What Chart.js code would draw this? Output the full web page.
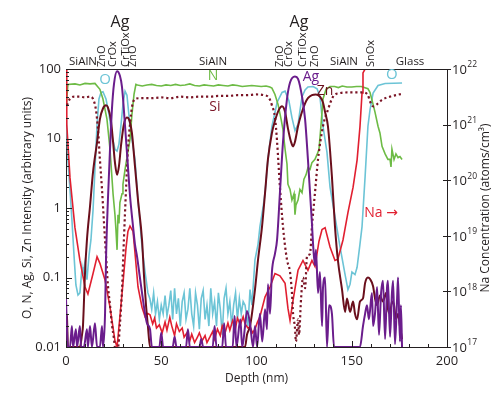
<!DOCTYPE html>
<html>
<head>
<meta charset="utf-8">
<script src="https://cdn.jsdelivr.net/npm/chart.js@4.4.1/dist/chart.umd.min.js"></script>
<style>
  html, body { margin: 0; padding: 0; background: #fff; }
</style>
</head>
<body>
<canvas id="sims" width="500" height="395"></canvas>
<script>
// SIMS depth profile: [depth (nm), value]
const oxygen = [
  [0, 25], [1, 5], [2.1, 1.8], [3.1, 0.68], [4.2, 0.21], [5.2, 0.078], [6.3, 0.056], [7.3, 0.06],
  [8.4, 0.14], [8.9, 0.11], [10, 0.17], [11, 0.093], [12.1, 0.21], [13.1, 0.35], [14.2, 0.94],
  [15.2, 3.6], [16.3, 16], [17.3, 37], [18.4, 46], [19.4, 47], [21, 37], [22.6, 22], [24.1, 11],
  [25.7, 7], [26.8, 6.6], [27.8, 8.3], [28.9, 16], [29.9, 31], [31, 48], [32, 42], [33.6, 15],
  [36.2, 5], [37.8, 1.3], [39.9, 0.28], [41.5, 0.12], [43, 0.06],
  [44, 0.05], [45, 0.035], [46, 0.06], [47, 0.03], [48, 0.045], [49, 0.025], [50, 0.04], [51, 0.03],
  [52, 0.055], [53, 0.028], [54, 0.04], [55, 0.065], [56, 0.025], [57, 0.07], [58, 0.03], [59, 0.05],
  [60, 0.02], [61, 0.045], [62, 0.06], [63, 0.025], [64, 0.035], [65, 0.07], [66, 0.03], [67, 0.02],
  [68, 0.06], [69, 0.04], [70, 0.018], [71, 0.05], [72, 0.065], [73, 0.025], [74, 0.04], [75, 0.02],
  [76, 0.07], [77, 0.03], [78, 0.045], [79, 0.02], [80, 0.06], [81, 0.035], [82, 0.015], [83, 0.05],
  [84, 0.07], [85, 0.03], [86, 0.045], [87, 0.02], [88, 0.04], [89, 0.06], [90, 0.025], [91, 0.05],
  [92, 0.03], [93, 0.045], [94, 0.04], [95.5, 0.02], [96.6, 0.067], [97.6, 0.04], [99.2, 0.18],
  [100.8, 0.3], [101.8, 0.54], [103.4, 1.0], [104.5, 1.66], [106, 5], [108.1, 15], [110.8, 33],
  [113.4, 46], [115, 48], [117, 35], [118.6, 20], [120.2, 13], [121.8, 16], [122.8, 25], [123.9, 40],
  [125.5, 50], [127, 55], [129.7, 56], [131.8, 52], [133.3, 40], [134.9, 15], [137, 6.3], [138.6, 2],
  [141.2, 0.75], [143.8, 0.28], [146.5, 0.11], [148, 0.067], [149.1, 0.08], [150.1, 0.12],
  [151.7, 0.11], [152.8, 0.14], [154.3, 0.3], [155.4, 0.54], [157, 2.8], [158.5, 15], [159.6, 26],
  [161.2, 45], [163.8, 58], [167.5, 62], [176.4, 63]
];

const nitrogen = [
  [0, 26], [1, 60], [4.7, 61], [7.3, 59], [10, 62], [12.6, 61], [15.2, 62], [17.8, 51], [19.4, 37],
  [21.5, 19], [23.1, 7], [24.7, 1.6], [25.7, 0.8], [26.2, 0.5], [26.8, 0.25], [27.3, 0.8], [27.8, 0.6],
  [28.3, 1.2], [29.4, 1.6], [29.9, 2.2], [31, 3.6], [32, 5.3], [33.6, 9.7], [34.6, 22], [35.7, 43],
  [36.7, 60], [37.5, 59], [40, 57], [42.5, 59], [45, 60], [47.5, 58], [50, 57], [52.5, 59], [55, 58],
  [57.5, 60], [60, 58], [62.5, 59], [65, 61], [67.5, 58], [70, 57], [72.5, 59], [75, 58], [77.5, 57],
  [80, 59], [82.5, 58], [85, 57], [87.5, 59], [90, 58], [92.5, 56], [95, 57], [97.5, 58], [100, 57],
  [102.5, 56], [105, 57], [107, 55], [108.1, 53], [109.7, 43], [111.3, 31], [112.9, 19], [113.9, 13.4],
  [115, 7], [116, 4.3], [116.5, 2.2], [117.6, 1.85], [118.6, 1.3], [119.7, 1.6], [120.2, 0.8],
  [120.7, 1.1], [121.8, 1.3], [122.8, 1.85], [123.9, 1.66], [124.9, 2.6], [126, 3.0], [127, 3.8],
  [128.1, 3.6], [129.1, 4.5], [130.7, 5], [131.8, 5.9], [132.8, 7], [133.9, 16], [134.9, 37],
  [136.5, 51], [138.6, 56], [141, 56], [143, 54], [145, 57], [147.5, 55], [150, 55], [152.5, 56],
  [155, 56], [158.5, 52], [159.6, 46], [161.2, 31], [162.2, 24], [163.8, 15], [164.8, 12],
  [165.9, 7.7], [167.5, 6], [169, 5], [170.1, 5], [170.6, 3.9], [171.1, 7], [172.2, 5], [173.2, 6],
  [174.3, 5.3], [175.3, 5.5], [176.4, 5]
];

const silver = [
  [0, 0.05], [0.5, 0.018], [1, 0.01], [2.1, 0.01], [3.1, 0.02], [3.7, 0.01], [5.2, 0.018], [5.8, 0.01],
  [7.3, 0.02], [7.9, 0.01], [9.4, 0.01], [11, 0.018], [11.5, 0.01], [12.6, 0.02], [13.6, 0.01],
  [15.2, 0.022], [16.3, 0.01], [17.8, 0.01], [18.9, 0.02], [19.4, 0.01], [20.5, 0.03], [21, 0.18],
  [22, 1.3], [23.1, 7], [24.1, 26], [25.2, 61], [26.8, 93], [28.3, 80], [29.4, 55], [31, 15],
  [32.5, 4], [33.6, 1.5], [35.2, 0.54], [36.2, 0.3], [37.3, 0.2], [38.8, 0.1], [40.4, 0.048],
  [41.5, 0.03], [42.5, 0.022], [44.1, 0.018], [45.1, 0.01], [49, 0.01], [50, 0.016], [51, 0.01],
  [56, 0.01], [57, 0.014], [58, 0.01], [63, 0.01], [64, 0.018], [65, 0.01], [70, 0.01], [71, 0.013],
  [72, 0.01], [77, 0.01], [78, 0.02], [79, 0.01], [82, 0.01], [83, 0.022], [84, 0.01], [87.5, 0.01],
  [88.5, 0.028], [89.5, 0.01], [91.5, 0.025], [92.5, 0.01], [94, 0.02], [95, 0.033], [96.6, 0.022],
  [98.2, 0.01], [99.2, 0.02], [100.3, 0.01], [101.8, 0.03], [103, 0.012], [104.5, 0.035],
  [105.5, 0.018], [106, 0.08], [107.1, 0.03], [108.1, 0.12], [109.7, 0.22], [110.8, 0.35],
  [112.3, 1.66], [113.9, 8.8], [116, 37], [117.6, 64], [120.2, 78], [121.8, 72], [123.9, 40],
  [125.5, 19], [127, 5], [128.1, 1.66], [129.1, 0.6], [129.7, 0.3], [130.7, 0.15], [131.2, 0.25],
  [132.3, 0.06], [133.3, 0.12], [134.4, 0.02], [134.9, 0.07], [136, 0.1], [137, 0.01], [138.1, 0.04],
  [139.6, 0.03], [140.7, 0.01], [154.3, 0.01], [155.9, 0.02], [157, 0.03], [158, 0.04], [159, 0.025],
  [160.6, 0.06], [161.2, 0.02], [162.2, 0.03], [163.3, 0.073], [164.3, 0.015], [165.4, 0.06],
  [166.4, 0.09], [167.5, 0.013], [168.5, 0.07], [169, 0.09], [170.1, 0.014], [171.1, 0.06],
  [171.7, 0.09], [172.7, 0.011], [173.8, 0.05], [174.3, 0.1], [175.3, 0.012], [175.8, 0.04], [176.4, 0.01]
];

const silicon = [
  [0.5, 30], [2, 37], [4.7, 40], [7.3, 40], [10, 39], [12.6, 40], [14.2, 37], [15.7, 26], [16.8, 13.4],
  [17.8, 5], [18.9, 1.85], [20, 0.58], [21, 0.21], [22, 0.078], [23.1, 0.04], [24.1, 0.021],
  [25.2, 0.013], [25.7, 0.01], [27.3, 0.01], [28.3, 0.021], [29.4, 0.067], [30.4, 0.35], [31.5, 1.85],
  [32.5, 7], [33.6, 16], [34.6, 28], [36.2, 37], [38.8, 38], [45, 38], [50, 39], [55, 38], [60, 40],
  [65, 39], [70, 40], [75, 40], [80, 41], [85, 41], [90, 42], [95, 42], [100, 43], [104, 42], [106, 40],
  [107.1, 36], [108.1, 30], [109.7, 20], [110.8, 9], [112.3, 2], [113.9, 0.54], [116, 0.18],
  [117.6, 0.12], [118.6, 0.06], [119.2, 0.03], [120.2, 0.019], [120.7, 0.012], [121.8, 0.025],
  [122.3, 0.015], [123.4, 0.05], [124.4, 0.1], [125.5, 0.07], [126.5, 0.2], [128.1, 0.22],
  [129.1, 0.54], [130.7, 1.66], [132.3, 5], [134.9, 15], [137.5, 26], [140.2, 40], [143.8, 45],
  [149.1, 46], [155.9, 46], [158.5, 42], [159.6, 34], [161.2, 29], [163.8, 32], [165.9, 36],
  [170.1, 40], [176.4, 44]
];

const zinc = [
  [0, 0.03], [0.5, 0.027], [1, 0.01], [7.3, 0.01], [8.4, 0.015], [8.9, 0.02], [10, 0.12], [11, 0.35],
  [12.6, 1.05], [14.2, 3.3], [16.3, 8.8], [17.8, 19], [19.4, 27], [21, 30], [22, 28], [23.6, 18],
  [24.7, 9], [25.7, 4.5], [26.8, 3.0], [27.8, 4], [28.9, 8], [30.4, 16], [32, 20], [33, 19], [34.6, 12],
  [36.2, 4], [37.8, 1.3], [39.9, 0.35], [41, 0.1], [42, 0.04], [43, 0.02], [44.1, 0.01], [94, 0.01],
  [95, 0.015], [96.6, 0.02], [99.2, 0.067], [100.8, 0.18], [102.9, 0.54], [104.5, 1.66], [106, 5],
  [108.1, 12], [109.7, 18], [111.8, 26], [113.4, 29], [115, 24], [116.5, 14], [118.1, 9], [119.2, 7.7],
  [120.2, 9], [121.8, 15], [123.4, 22], [125.5, 32], [127, 38], [129.1, 42], [131.2, 43], [133.3, 40],
  [134.9, 33], [136, 24], [137.5, 15], [139.6, 2.8], [141.2, 0.54], [142.7, 0.18], [144.9, 0.067],
  [146.5, 0.032], [147.5, 0.05], [149.1, 0.032], [150.7, 0.045], [151.7, 0.03], [152.8, 0.025],
  [154.3, 0.045], [155.9, 0.05], [157, 0.083], [158.5, 0.1], [159.6, 0.095], [161.2, 0.075],
  [162.2, 0.05], [163.3, 0.04], [164.8, 0.055], [166.4, 0.045], [168, 0.06], [169, 0.035],
  [170.1, 0.03], [171.1, 0.045], [172.2, 0.04], [173.2, 0.025], [174.3, 0.03], [175.3, 0.02],
  [176.4, 0.013]
];

// Na concentration (atoms/cm3), right axis
const sodium = [
  [0, 1e22], [0.4, 1e21], [2.1, 1.1e20], [4.7, 1.4e19], [7.3, 3.6e18], [10, 1.2e18], [11.5, 9e17],
  [14.2, 2.1e18], [16.3, 4.2e18], [17.8, 3.2e18], [20.5, 1.6e18], [23.1, 5.2e17], [25.7, 1.3e17],
  [26.8, 1e17], [28.3, 3.5e17], [29.9, 1.4e18], [31.5, 6e18], [32.5, 1.2e19], [33.6, 1.5e19],
  [35.2, 1.2e19], [36.2, 5e18], [37.8, 1.2e18], [39.9, 5.2e17], [41.5, 3.5e17], [43, 4e17],
  [44.1, 3.8e17], [45.5, 2.6e17], [46.5, 3.3e17], [47.5, 2.2e17], [49, 2.5e17], [50.5, 1.8e17],
  [52, 2.8e17], [53, 2e17], [54.5, 3.4e17], [55.5, 2.4e17], [57, 1.6e17], [58, 2.6e17], [59.5, 1.9e17],
  [61, 2.2e17], [62, 1.5e17], [63.5, 1.8e17], [65, 1.3e17], [66, 1.7e17], [67.5, 1.2e17], [69, 1.5e17],
  [70, 1.8e17], [71.5, 1.3e17], [73, 1.6e17], [74, 1.2e17], [75.5, 1.5e17], [77, 1.9e17], [78, 1.4e17],
  [79.5, 2.1e17], [81, 1.6e17], [82, 2.4e17], [83.5, 1.8e17], [85, 2.7e17], [86, 2e17], [87.5, 3e17],
  [89, 2.2e17], [90, 3.3e17], [91.5, 2.5e17], [93, 3.5e17], [94, 2.6e17], [95.5, 2.2e17],
  [96.6, 2.3e17], [98, 1.8e17], [99.2, 2.1e17], [100.5, 2.8e17], [101.8, 3.5e17], [104.5, 8e17],
  [107.1, 1.2e18], [109.7, 2.1e18], [112.3, 1.9e18], [115, 1.4e18], [116.5, 5e17], [117.6, 3e17],
  [119.2, 7e17], [121.8, 2.4e18], [124.4, 3.6e18], [127, 2.4e18], [129.1, 3.6e18], [130.7, 2.8e18],
  [132.8, 8e18], [134.4, 1.3e19], [136, 1.4e19], [138.6, 6.3e18], [141.2, 3.6e18], [142.7, 3.8e18],
  [145.4, 8.4e18], [148, 2.6e19], [150.7, 7.5e19], [152.8, 2.3e20], [154.3, 9e20], [155.4, 3.7e21],
  [155.9, 8.5e21], [157, 1e22], [176.4, 1e22]
];

// axis ticks
const depthLabels = [0, 50, 100, 150, 200];
const intensityDecades = [0.01, 0.1, 1, 10, 100];
const naExponents = [17, 18, 19, 20, 21, 22];

// layer names above the plot: [text, depth nm, rotated]
const layers = [
  ['SiAlN', 8.9, false], ['ZnO', 18.9, true], ['CrOx', 24.7, true], ['CrTiOx', 31.5, true],
  ['ZnO', 35.2, true], ['SiAlN', 77.2, false], ['ZnO', 112.3, true], ['CrOx', 117, true],
  ['CrTiOx', 124.4, true], ['ZnO', 130.7, true], ['SiAlN', 145.9, false], ['SnOx', 160.1, true],
  ['Glass', 180.6, false]
];
const silverLayers = [28.3, 122.3];

const FONT = '"Open Sans", "DejaVu Sans", sans-serif';
const INK = '#231f20';
const C_O = '#6cc4d6', C_N = '#6dbb45', C_AG = '#6b1d8c', C_SI = '#7b1526', C_ZN = '#6a0f1c', C_NA = '#e11f30';

function pts(arr) { return arr.map(([x, y]) => ({ x, y })); }
function isDecade(v) { const l = Math.log10(v); return Math.abs(l - Math.round(l)) < 1e-6; }

function series(label, arr, color, extra) {
  return Object.assign({
    label, data: pts(arr), borderColor: color, backgroundColor: color,
    borderWidth: 1.6, pointRadius: 0, fill: false, tension: 0, yAxisID: 'y'
  }, extra || {});
}

const annotate = {
  id: 'annotate',
  afterDraw(chart) {
    const { ctx, chartArea: a, scales } = chart;
    const x = scales.x, y = scales.y, y2 = scales.y2;
    ctx.save();

    // top frame + inner ticks
    ctx.strokeStyle = INK;
    ctx.lineWidth = 1;
    ctx.beginPath();
    ctx.moveTo(a.left, a.top + 0.5);
    ctx.lineTo(a.right, a.top + 0.5);
    for (let d = 0; d <= 200; d += 10) {
      const px = Math.round(x.getPixelForValue(d)) + 0.5;
      ctx.moveTo(px, a.bottom);
      ctx.lineTo(px, a.bottom - (d % 50 === 0 ? 6 : 3));
    }
    intensityDecades.forEach(dec => {
      for (let m = 1; m <= 9; m++) {
        const v = dec * m;
        if (v > 100) break;
        const py = Math.round(y.getPixelForValue(v)) + 0.5;
        ctx.moveTo(a.left, py);
        ctx.lineTo(a.left + (m === 1 ? 6 : 3), py);
      }
    });
    naExponents.forEach(e => {
      const py = Math.round(y2.getPixelForValue(Math.pow(10, e))) + 0.5;
      ctx.moveTo(a.right - 4, py);
      ctx.lineTo(a.right + 4, py);
    });
    ctx.stroke();

    // right axis labels 10^n
    ctx.fillStyle = INK;
    ctx.textBaseline = 'middle';
    ctx.textAlign = 'left';
    naExponents.forEach(e => {
      const py = y2.getPixelForValue(Math.pow(10, e));
      ctx.font = '13px ' + FONT;
      ctx.fillText('10', a.right + 5, py + 1);
      const w = ctx.measureText('10').width;
      ctx.font = '8.5px ' + FONT;
      ctx.fillText(String(e), a.right + 5 + w + 0.5, py - 4);
    });

    // right axis title, reading bottom to top
    ctx.save();
    ctx.translate(486, (a.top + a.bottom) / 2);
    ctx.rotate(-Math.PI / 2);
    ctx.textAlign = 'center';
    ctx.font = '12px ' + FONT;
    ctx.fillText('Na Concentration (atoms/cm³)', 0, 0);
    ctx.restore();

    // layer names
    ctx.fillStyle = INK;
    layers.forEach(([t, d, rot]) => {
      const px = x.getPixelForValue(d);
      if (rot) {
        ctx.font = '11px ' + FONT;
        ctx.save();
        ctx.translate(px, 67);
        ctx.rotate(-Math.PI / 2);
        ctx.textAlign = 'left';
        ctx.textBaseline = 'middle';
        ctx.fillText(t, 0, 0);
        ctx.restore();
      } else {
        ctx.font = '11.5px ' + FONT;
        ctx.textAlign = 'center';
        ctx.textBaseline = 'middle';
        ctx.fillText(t, px, 62);
      }
    });
    ctx.font = '16px ' + FONT;
    ctx.textAlign = 'center';
    ctx.textBaseline = 'middle';
    silverLayers.forEach(d => ctx.fillText('Ag', x.getPixelForValue(d), 22));

    // element labels inside the plot
    const tag = (t, d, v, color, size, scale) => {
      ctx.font = size + 'px ' + FONT;
      ctx.fillStyle = color;
      ctx.textAlign = 'center';
      ctx.textBaseline = 'middle';
      ctx.fillText(t, x.getPixelForValue(d), (scale || y).getPixelForValue(v));
    };
    tag('N', 77.2, 79, C_N, 14);
    tag('Si', 78.2, 28, C_SI, 14);
    tag('O', 20.5, 71, C_O, 15);
    tag('O', 171, 84, C_O, 15);
    tag('Ag', 128.6, 76, C_AG, 14);
    tag('Zn', 136, 48, C_ZN, 14);
    tag('Na →', 165.4, 2.6e19, C_NA, 14, y2);

    ctx.restore();
  }
};

new Chart(document.getElementById('sims').getContext('2d'), {
  type: 'line',
  data: {
    datasets: [
      series('Ag', silver, C_AG, { borderWidth: 2, cubicInterpolationMode: 'monotone' }),
      series('Zn', zinc, C_ZN, { borderWidth: 2, cubicInterpolationMode: 'monotone' }),
      series('Si', silicon, C_SI, { borderWidth: 2.2, borderDash: [2.2, 2.8], cubicInterpolationMode: 'monotone' }),
      series('Na', sodium, C_NA, { yAxisID: 'y2' }),
      series('N', nitrogen, C_N),
      series('O', oxygen, C_O)
    ]
  },
  options: {
    responsive: false,
    animation: false,
    layout: { padding: { top: 69, left: 0, right: 0, bottom: 0 } },
    plugins: { legend: { display: false }, tooltip: { enabled: false } },
    scales: {
      x: {
        type: 'linear', min: 0, max: 200,
        afterFit: s => { s.height = 48; },
        grid: { drawOnChartArea: false, drawTicks: false },
        border: { color: INK, width: 1 },
        ticks: {
          stepSize: 50, padding: 6, color: INK, font: { family: FONT, size: 13 },
          callback: v => depthLabels.includes(v) ? String(v) : ''
        },
        title: { display: true, text: 'Depth (nm)', color: INK, font: { family: FONT, size: 12 }, padding: { top: 0, bottom: 9 } }
      },
      y: {
        type: 'logarithmic', position: 'left', min: 0.01, max: 100,
        afterFit: s => { s.width = 66; },
        grid: { drawOnChartArea: false, drawTicks: false },
        border: { color: INK, width: 1 },
        ticks: {
          autoSkip: false, padding: 5, color: INK, font: { family: FONT, size: 13 },
          callback: v => {
            if (!isDecade(v)) return '';
            const e = Math.round(Math.log10(v));
            return e < 0 ? v.toFixed(-e) : String(Math.round(v));
          }
        },
        title: { display: true, text: 'O, N, Ag, Si, Zn Intensity (arbitrary units)', color: INK, font: { family: FONT, size: 12 }, padding: { top: 20, bottom: 0 } }
      },
      y2: {
        type: 'logarithmic', position: 'right', min: 1e17, max: 1e22,
        afterFit: s => { s.width = 53; },
        grid: { drawOnChartArea: false, drawTicks: false },
        border: { color: INK, width: 1 },
        ticks: { display: false }
      }
    }
  },
  plugins: [annotate]
});
</script>
</body>
</html>
